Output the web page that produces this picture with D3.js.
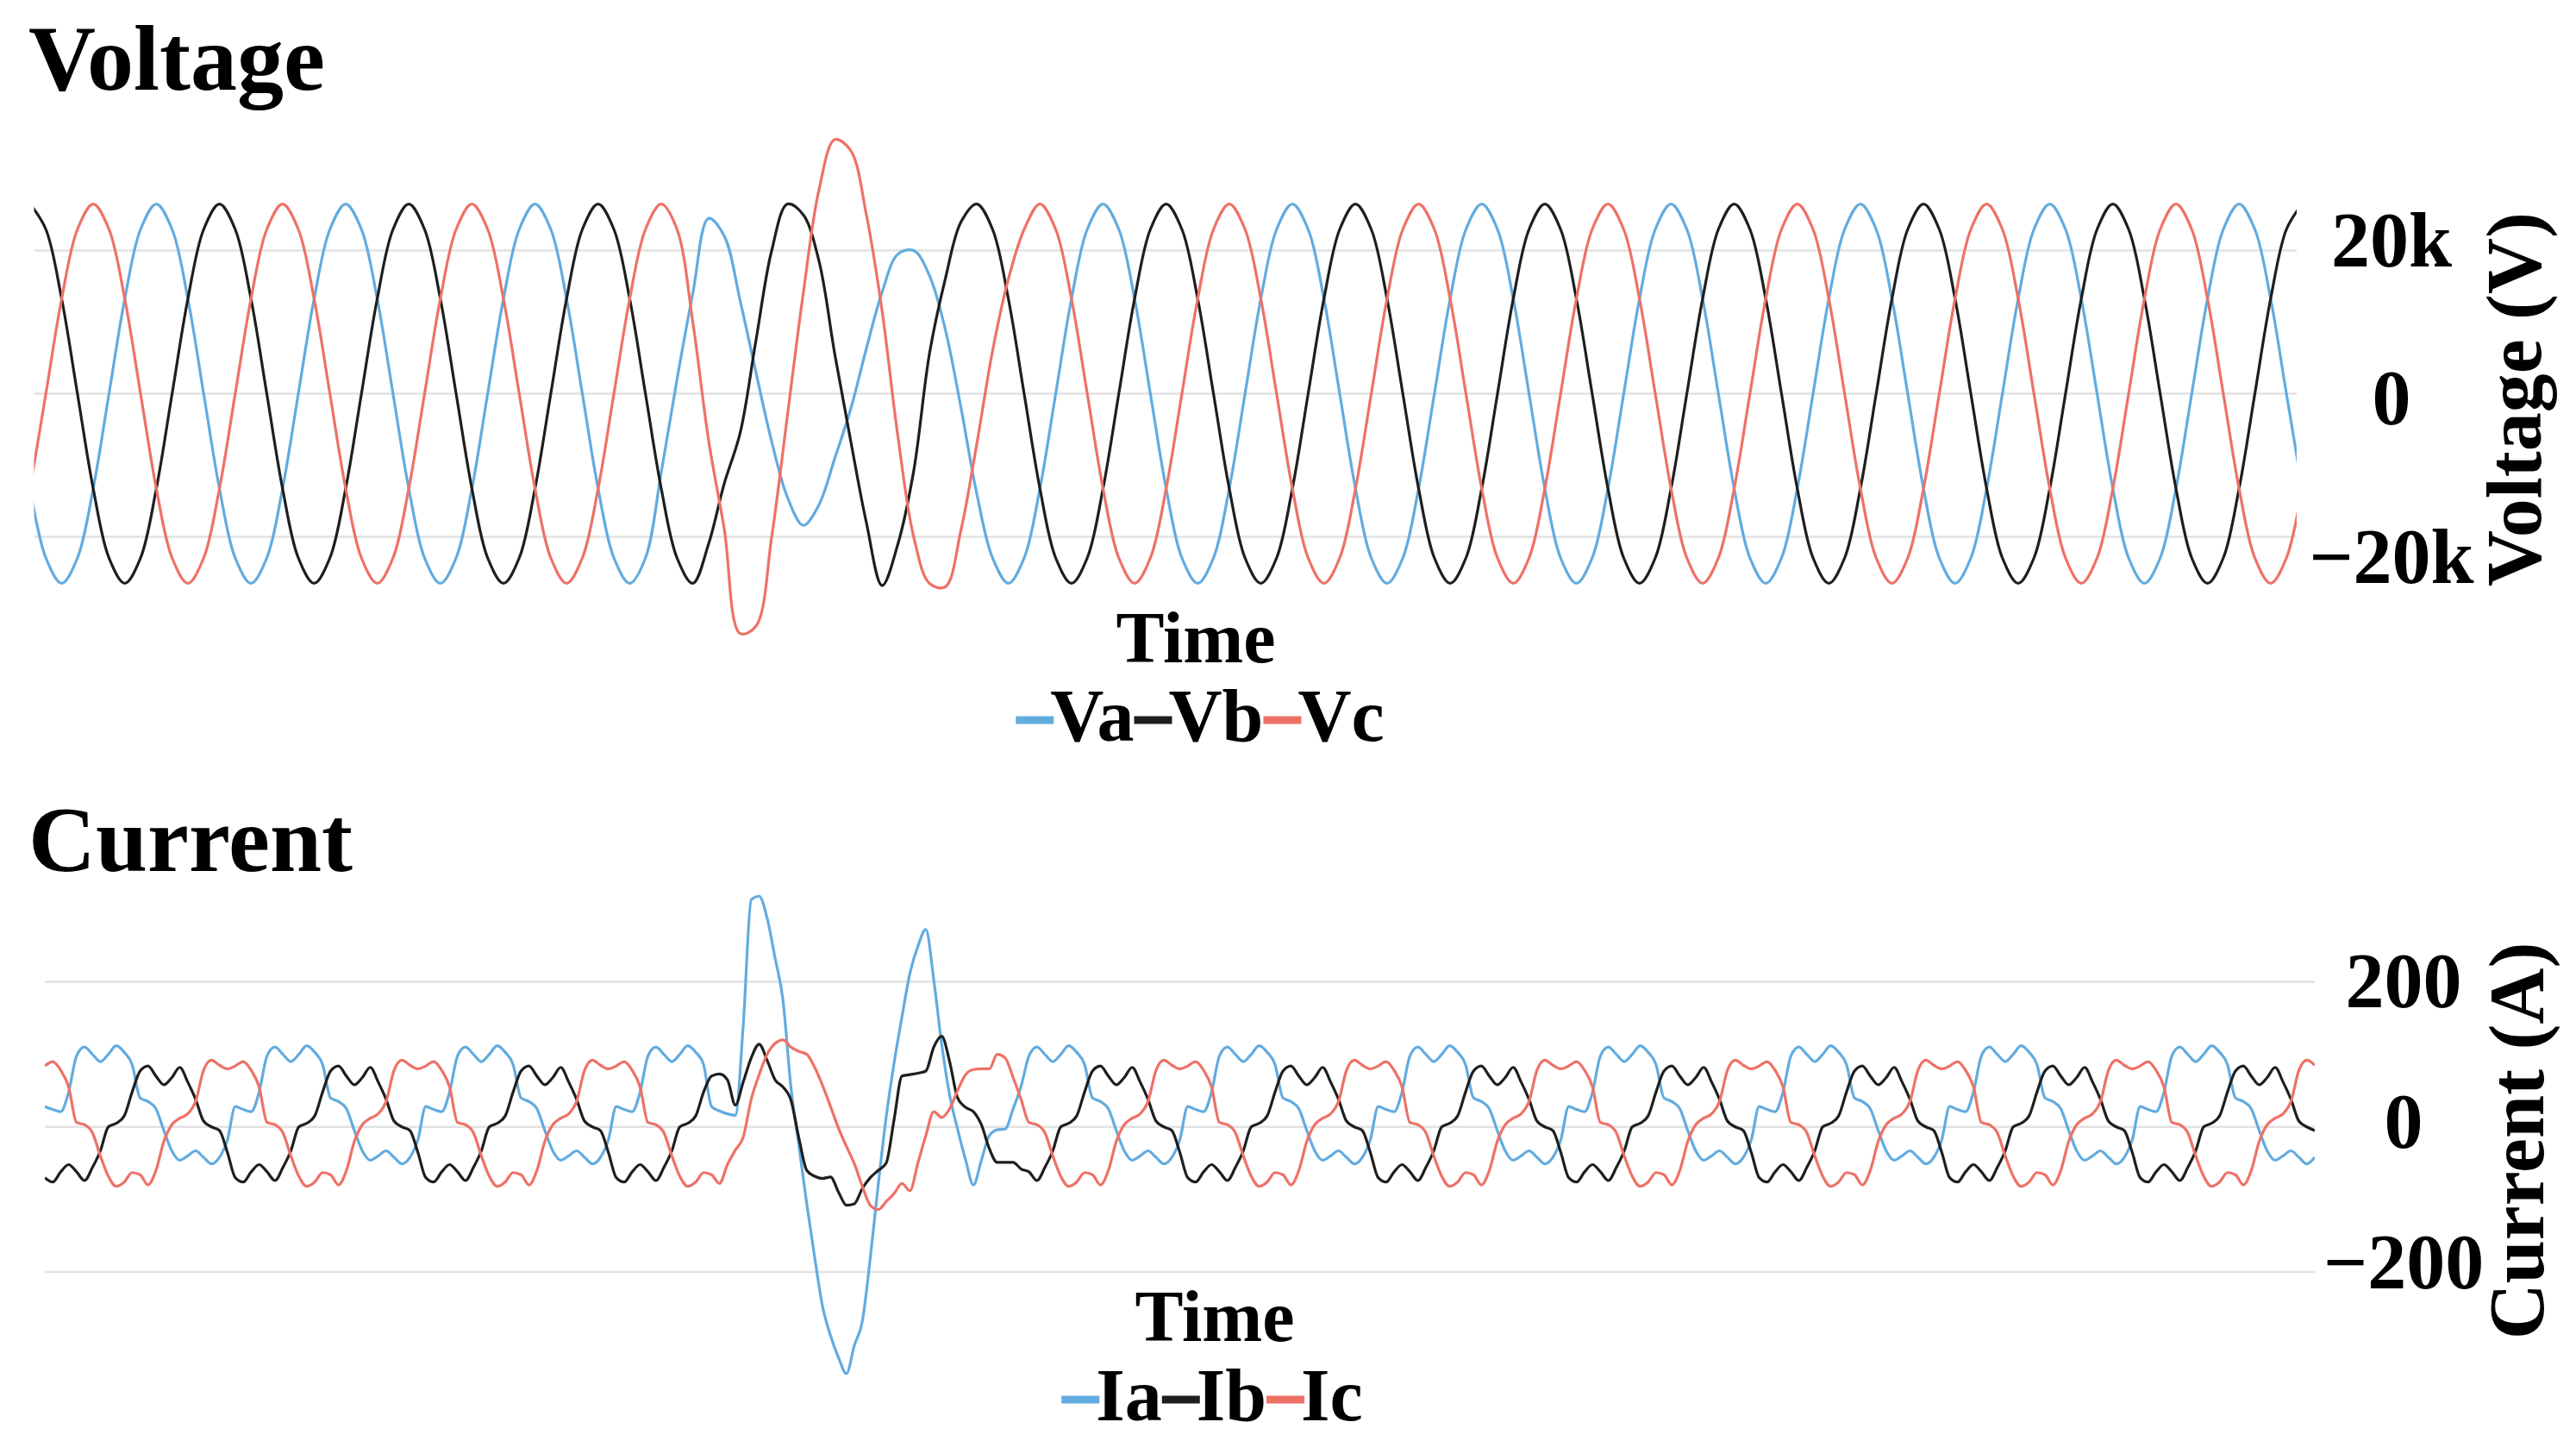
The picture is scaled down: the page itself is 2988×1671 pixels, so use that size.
<!DOCTYPE html>
<html><head><meta charset="utf-8">
<script src="https://cdn.jsdelivr.net/npm/d3@7"></script>
<style>
html,body{margin:0;padding:0;background:#fff;}
svg{display:block;}
text{font-family:"Liberation Serif","Times New Roman",serif;font-weight:bold;fill:#000;}
</style>
</head><body>
<svg id="chart" width="2988" height="1671"></svg>
<script>
// ---------------- data ----------------
const voltageSeries = ["Va", "Vb", "Vc"];
const currentSeries = ["Ia", "Ib", "Ic"];
const seriesColors = ["#62abdf", "#1e1e1e", "#ee7166"];
const voltageTicks = [-20000, 0, 20000];
const currentTicks = [-200, 0, 200];

// voltage, sampled every 2 time steps (V)
const Va = [
-13250,-22950,-26500,-22950,-13250,0,13250,22950,26500,22950,13250,0,
-13250,-22950,-26500,-22950,-13250,0,13250,22950,26500,22950,13250,0,
-13250,-22950,-26500,-22950,-13250,0,13250,22950,26500,22950,13250,0,
-13250,-22950,-26500,-22950,-11000,2000,14000,24500,22000,13000,3000,-6700,
-14500,-18400,-15500,-9000,-2200,6300,14200,19500,20000,16500,9000,-2000,
-14000,-22950,-26500,-22950,-13250,0,13250,22950,26500,22950,13250,0,
-13250,-22950,-26500,-22950,-13250,0,13250,22950,26500,22950,13250,0,
-13250,-22950,-26500,-22950,-13250,0,13250,22950,26500,22950,13250,0,
-13250,-22950,-26500,-22950,-13250,0,13250,22950,26500,22950,13250,0,
-13250,-22950,-26500,-22950,-13250,0,13250,22950,26500,22950,13250,0,
-13250,-22950,-26500,-22950,-13250,0,13250,22950,26500,22950,13250,0,
-13250,-22950,-26500,-22950,-13250,0,13250,22950,26500,22950,13250,0,
-13250
];
const Vb = [
26500,22950,13250,0,-13250,-22950,-26500,-22950,-13250,0,13250,22950,
26500,22950,13250,0,-13250,-22950,-26500,-22950,-13250,0,13250,22950,
26500,22950,13250,0,-13250,-22950,-26500,-22950,-13250,0,13250,22950,
26500,22950,13250,0,-13250,-22950,-26500,-21000,-12500,-5500,7400,20000,
26500,25000,18500,5500,-6500,-18000,-26800,-21000,-10800,5600,16000,24000,
26500,22950,13250,0,-13250,-22950,-26500,-22950,-13250,0,13250,22950,
26500,22950,13250,0,-13250,-22950,-26500,-22950,-13250,0,13250,22950,
26500,22950,13250,0,-13250,-22950,-26500,-22950,-13250,0,13250,22950,
26500,22950,13250,0,-13250,-22950,-26500,-22950,-13250,0,13250,22950,
26500,22950,13250,0,-13250,-22950,-26500,-22950,-13250,0,13250,22950,
26500,22950,13250,0,-13250,-22950,-26500,-22950,-13250,0,13250,22950,
26500,22950,13250,0,-13250,-22950,-26500,-22950,-13250,0,13250,22950,
26500
];
const Vc = [
-13250,0,13250,22950,26500,22950,13250,0,-13250,-22950,-26500,-22950,
-13250,0,13250,22950,26500,22950,13250,0,-13250,-22950,-26500,-22950,
-13250,0,13250,22950,26500,22950,13250,0,-13250,-22950,-26500,-22950,
-13250,0,13250,22950,26500,22950,10000,-6500,-19000,-33500,-32500,-20000,
-3000,14000,28500,35500,34000,25000,11500,-6000,-20000,-26500,-27000,-19000,
-7000,6000,16000,22950,26500,22950,13250,0,-13250,-22950,-26500,-22950,
-13250,0,13250,22950,26500,22950,13250,0,-13250,-22950,-26500,-22950,
-13250,0,13250,22950,26500,22950,13250,0,-13250,-22950,-26500,-22950,
-13250,0,13250,22950,26500,22950,13250,0,-13250,-22950,-26500,-22950,
-13250,0,13250,22950,26500,22950,13250,0,-13250,-22950,-26500,-22950,
-13250,0,13250,22950,26500,22950,13250,0,-13250,-22950,-26500,-22950,
-13250,0,13250,22950,26500,22950,13250,0,-13250,-22950,-26500,-22950,
-13250
];

// current, sampled every time step (A)
const Ia = [
28,24,21,48,98,110,100,90,100,112,103,86,40,35,25,-5,-33,-46,-40,-33,-42,-51,-42,-18,
28,24,21,48,98,110,100,90,100,112,103,86,40,35,25,-5,-33,-46,-40,-33,-42,-51,-42,-18,
28,24,21,48,98,110,100,90,100,112,103,86,40,35,25,-5,-33,-46,-40,-33,-42,-51,-42,-18,
28,24,21,48,98,110,100,90,100,112,103,86,28,22,18,16,141,313,318,288,233,175,55,-25,
-106,-180,-248,-288,-318,-340,-301,-268,-181,-80,13,88,152,212,249,272,203,114,44,-3,-45,-80,-46,-12,
-4,-3,25,56,98,110,100,90,100,112,103,86,40,35,25,-5,-33,-46,-40,-33,-42,-51,-42,-18,
28,24,21,48,98,110,100,90,100,112,103,86,40,35,25,-5,-33,-46,-40,-33,-42,-51,-42,-18,
28,24,21,48,98,110,100,90,100,112,103,86,40,35,25,-5,-33,-46,-40,-33,-42,-51,-42,-18,
28,24,21,48,98,110,100,90,100,112,103,86,40,35,25,-5,-33,-46,-40,-33,-42,-51,-42,-18,
28,24,21,48,98,110,100,90,100,112,103,86,40,35,25,-5,-33,-46,-40,-33,-42,-51,-42,-18,
28,24,21,48,98,110,100,90,100,112,103,86,40,35,25,-5,-33,-46,-40,-33,-42,-51,-42,-18,
28,24,21,48,98,110,100,90,100,112,103,86,40,35,25,-5,-33,-46,-40,-33,-42,-51,-42
];
const Ib = [
-70,-76,-62,-52,-62,-74,-56,-33,0,5,15,48,77,84,70,58,68,82,62,38,8,0,-5,-35,
-70,-76,-62,-52,-62,-74,-56,-33,0,5,15,48,77,84,70,58,68,82,62,38,8,0,-5,-35,
-70,-76,-62,-52,-62,-74,-56,-33,0,5,15,48,77,84,70,58,68,82,62,38,8,0,-5,-35,
-70,-76,-62,-52,-62,-74,-56,-33,0,5,15,48,70,73,65,30,62,95,114,92,65,55,37,-15,
-60,-68,-71,-69,-90,-108,-106,-85,-70,-60,-50,10,70,72,74,77,110,125,90,40,27,21,3,-30,
-49,-49,-49,-58,-62,-74,-56,-33,0,5,15,48,77,84,70,58,68,82,62,38,8,0,-5,-35,
-70,-76,-62,-52,-62,-74,-56,-33,0,5,15,48,77,84,70,58,68,82,62,38,8,0,-5,-35,
-70,-76,-62,-52,-62,-74,-56,-33,0,5,15,48,77,84,70,58,68,82,62,38,8,0,-5,-35,
-70,-76,-62,-52,-62,-74,-56,-33,0,5,15,48,77,84,70,58,68,82,62,38,8,0,-5,-35,
-70,-76,-62,-52,-62,-74,-56,-33,0,5,15,48,77,84,70,58,68,82,62,38,8,0,-5,-35,
-70,-76,-62,-52,-62,-74,-56,-33,0,5,15,48,77,84,70,58,68,82,62,38,8,0,-5,-35,
-70,-76,-62,-52,-62,-74,-56,-33,0,5,15,48,77,84,70,58,68,82,62,38,8,0,-5
];
const Ic = [
84,90,78,55,6,3,-8,-40,-68,-82,-76,-63,-66,-80,-60,-20,3,12,18,35,78,92,85,80,
84,90,78,55,6,3,-8,-40,-68,-82,-76,-63,-66,-80,-60,-20,3,12,18,35,78,92,85,80,
84,90,78,55,6,3,-8,-40,-68,-82,-76,-63,-66,-80,-60,-20,3,12,18,35,78,92,85,80,
84,90,78,55,6,3,-8,-40,-68,-82,-76,-63,-66,-78,-52,-32,-14,38,72,100,115,120,110,104,
100,82,57,28,-2,-27,-51,-82,-108,-114,-103,-92,-78,-88,-50,-12,21,13,25,50,72,79,80,80,
100,95,68,38,6,3,-8,-40,-68,-82,-76,-63,-66,-80,-60,-20,3,12,18,35,78,92,85,80,
84,90,78,55,6,3,-8,-40,-68,-82,-76,-63,-66,-80,-60,-20,3,12,18,35,78,92,85,80,
84,90,78,55,6,3,-8,-40,-68,-82,-76,-63,-66,-80,-60,-20,3,12,18,35,78,92,85,80,
84,90,78,55,6,3,-8,-40,-68,-82,-76,-63,-66,-80,-60,-20,3,12,18,35,78,92,85,80,
84,90,78,55,6,3,-8,-40,-68,-82,-76,-63,-66,-80,-60,-20,3,12,18,35,78,92,85,80,
84,90,78,55,6,3,-8,-40,-68,-82,-76,-63,-66,-80,-60,-20,3,12,18,35,78,92,85,80,
84,90,78,55,6,3,-8,-40,-68,-82,-76,-63,-66,-80,-60,-20,3,12,18,35,78,92,85
];

// sample times (time steps)
const timeI = d3.range(Ia.length);
const timeV = d3.range(Va.length).map(k => k * 2);

// ---------------- drawing ----------------
const svg = d3.select("#chart");
svg.append("rect").attr("width", 2988).attr("height", 1671).attr("fill", "#fff");
const defs = svg.append("defs");

function panel(opts) {
  const x = d3.scaleLinear().domain(opts.xDomain).range(opts.xRange);
  const y = d3.scaleLinear().domain([opts.ticks[0], opts.ticks[2]]).range(opts.yRange);
  const yLabel = d3.scaleLinear().domain([opts.ticks[0], opts.ticks[2]]).range(opts.labelRange);
  const g = svg.append("g");

  defs.append("clipPath").attr("id", opts.id)
    .append("rect").attr("x", opts.xRange[0]).attr("y", 0)
    .attr("width", opts.xRange[1] - opts.xRange[0]).attr("height", 1671);

  // gridlines
  g.append("g").selectAll("line").data(opts.ticks).join("line")
    .attr("x1", opts.xRange[0]).attr("x2", opts.xRange[1])
    .attr("y1", d => y(d)).attr("y2", d => y(d))
    .attr("stroke", "#e2e2e2").attr("stroke-width", 2.5);

  // tick labels (right side)
  g.append("g").selectAll("text").data(opts.ticks).join("text")
    .attr("x", opts.labelX).attr("y", d => yLabel(d)).attr("dy", "0.35em")
    .attr("text-anchor", "middle").attr("font-size", 90)
    .text(d => opts.fmt(d));

  // series
  const line = d3.line().curve(opts.curve)
    .x((d, i) => x(opts.time[i])).y(d => y(d));
  const sg = g.append("g").attr("clip-path", `url(#${opts.id})`);
  opts.series.forEach((s, k) => {
    sg.append("path").datum(s).attr("d", line)
      .attr("fill", "none").attr("stroke", seriesColors[k])
      .attr("stroke-width", 3.2).attr("stroke-linejoin", "round");
  });

  // title
  g.append("text").attr("x", 33).attr("y", opts.titleY).attr("font-size", 108).text(opts.title);

  // axis title (right, rotated)
  g.append("text").attr("transform", `translate(${opts.axisTitleX},${opts.axisTitleY}) rotate(-90)`)
    .attr("text-anchor", "middle").attr("font-size", 90).text(opts.axisTitle);

  // x-axis title
  g.append("text").attr("x", opts.timeX).attr("y", opts.timeY)
    .attr("text-anchor", "middle").attr("font-size", 84).text("Time");

  // legend
  const lg = g.append("g");
  let cx = 0;
  const lineLen = 40;
  opts.names.forEach((nm, k) => {
    lg.append("line").attr("x1", cx).attr("x2", cx + lineLen + 4)
      .attr("y1", -24).attr("y2", -24)
      .attr("stroke", seriesColors[k]).attr("stroke-width", 9);
    const t = lg.append("text").attr("x", cx + lineLen).attr("y", 0)
      .attr("font-size", 86).text(nm);
    cx = cx + lineLen + t.node().getComputedTextLength();
  });
  lg.attr("transform", `translate(${opts.legendX - cx / 2},${opts.legendY})`);
}

panel({
  id: "clipV", title: "Voltage", titleY: 104,
  series: [Va, Vb, Vc], names: voltageSeries, time: timeV,
  ticks: voltageTicks, fmt: d3.format("~s"),
  xDomain: [0.5, 287.3],
  xRange: [39.5, 2664], yRange: [622.5, 290.5], labelRange: [644, 277], labelX: 2774,
  axisTitle: "Voltage (V)", axisTitleX: 2947, axisTitleY: 463,
  timeX: 1387, timeY: 768, legendX: 1392, legendY: 859,
  curve: d3.curveCatmullRom.alpha(0.5)
});

panel({
  id: "clipI", title: "Current", titleY: 1010,
  series: [Ia, Ib, Ic], names: currentSeries, time: timeI,
  ticks: currentTicks, fmt: d3.format("d"),
  xDomain: [0, 286],
  xRange: [52, 2685], yRange: [1475, 1138.5], labelRange: [1462, 1136], labelX: 2788,
  axisTitle: "Current (A)", axisTitleX: 2950, axisTitleY: 1323,
  timeX: 1409, timeY: 1555, legendX: 1406, legendY: 1647,
  curve: d3.curveMonotoneX
});
</script>
</body></html>
